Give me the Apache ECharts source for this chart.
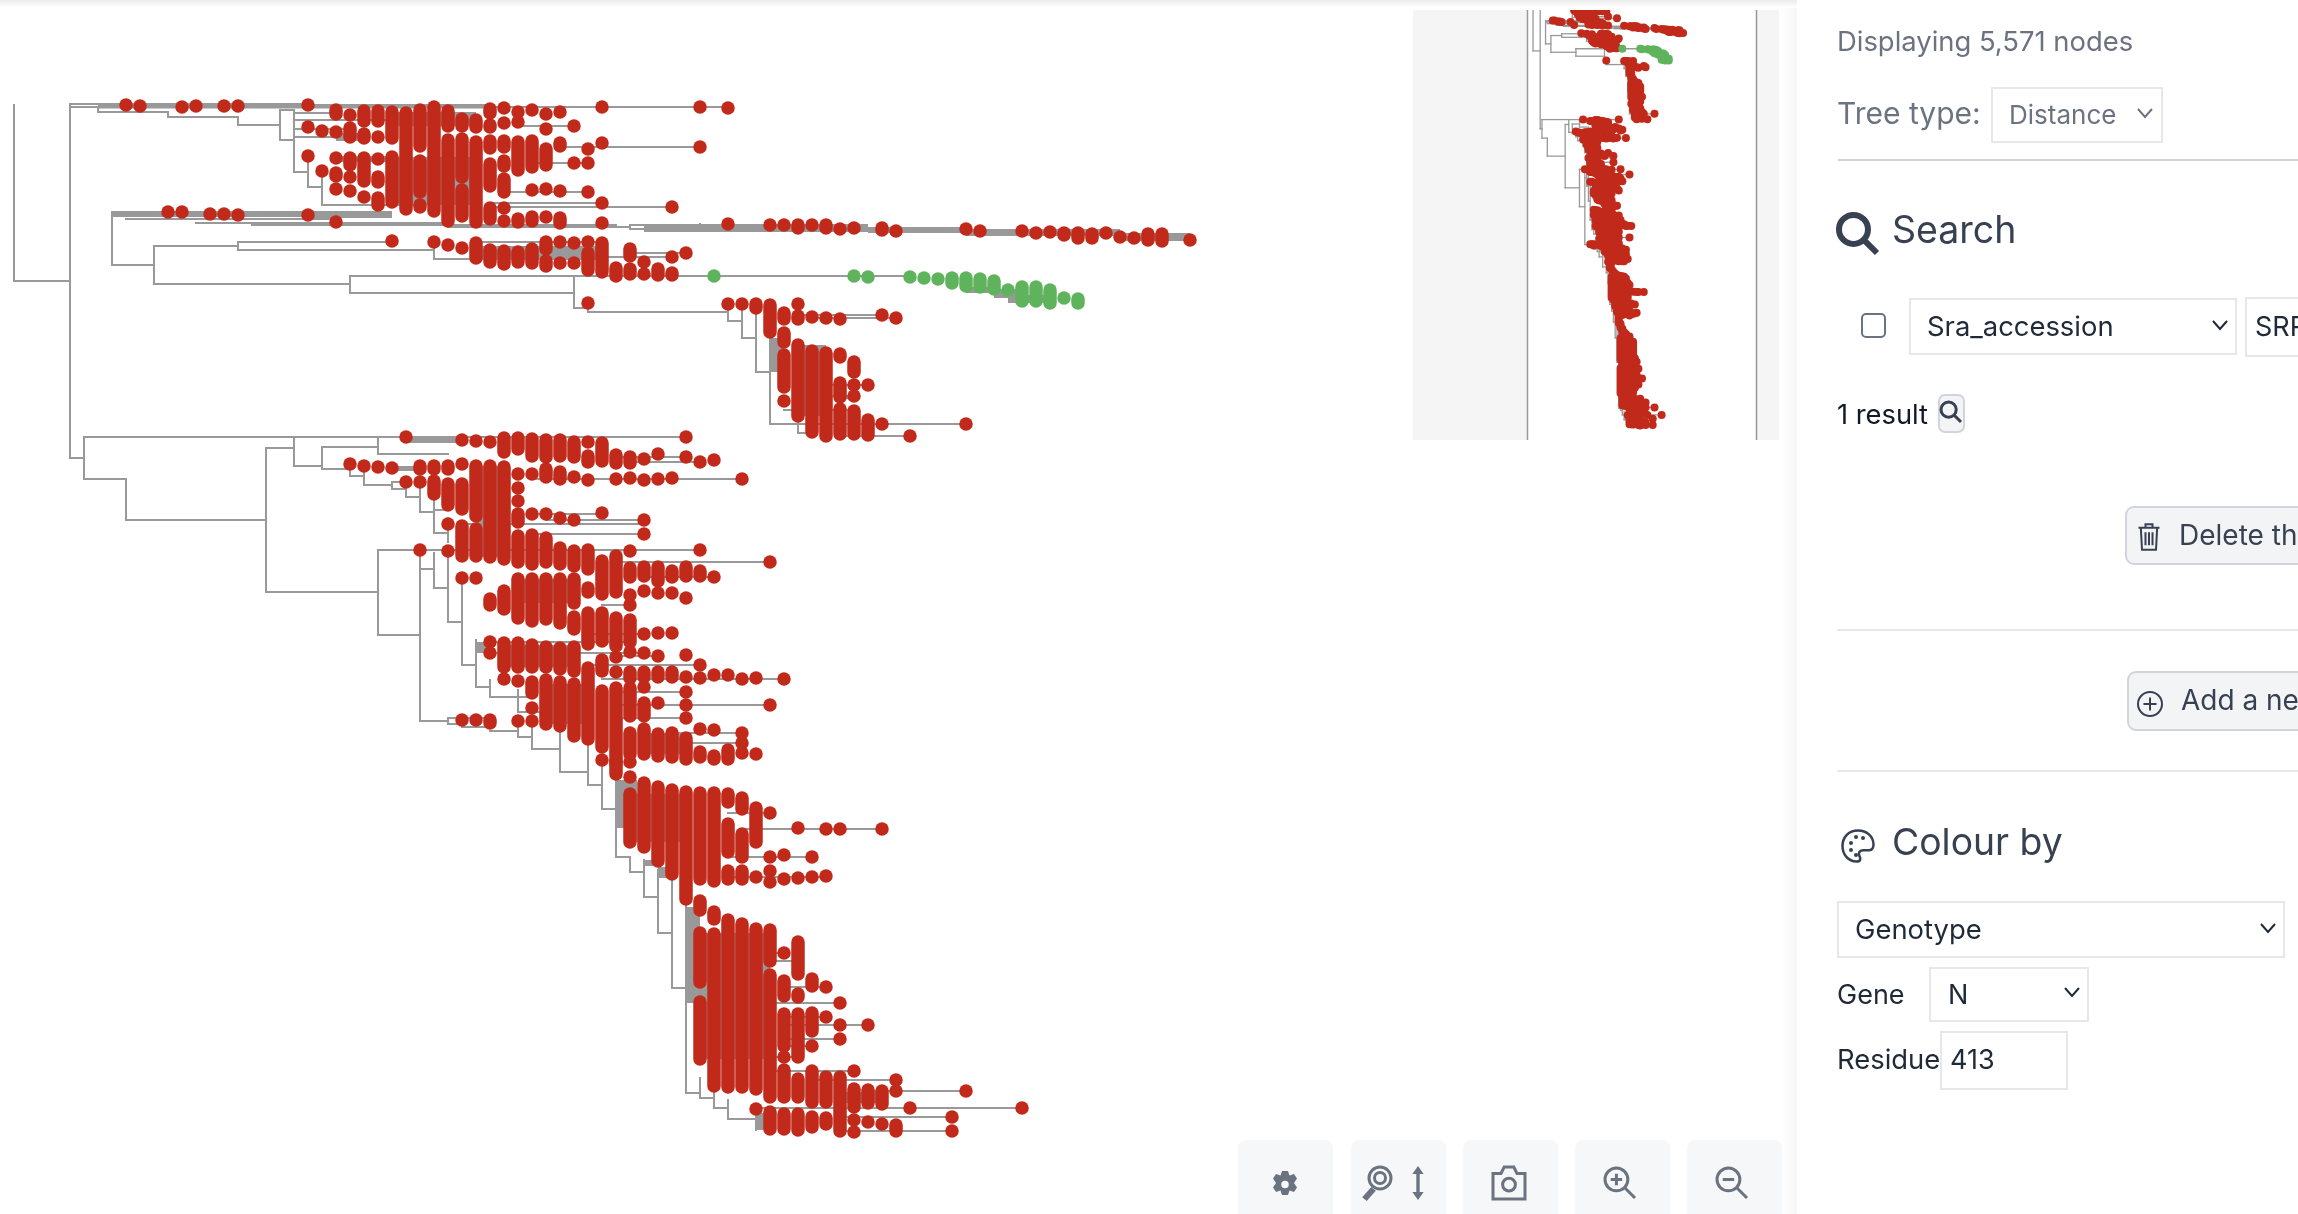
<!DOCTYPE html>
<html>
<head>
<meta charset="utf-8">
<title>Tree</title>
<script src="https://cdn.jsdelivr.net/npm/echarts@6/dist/echarts.min.js"></script>
<style>
html, body { margin: 0; padding: 0; background: #fff; overflow: hidden; }
#container { width: 2298px; height: 1214px; }
</style>
</head>
<body>
<div id="container"></div>
<script>
// x is the distance in mutations, y the row of the tree.
// one tip row is [distance, y, y, [yFrom, yTo], ...]

var redUpper = [
  [9, 105], [10, 106], [12, 212], [13, 107, 212], [14, 106], [15, 214], [16, 106, 214], [17, 106, 215],
  [22, 105, 127, 156, 215], [23, 131, 171],
  [24, [110, 114], 132, 158, [173, 176], 189, 222],
  [25, 115, [128, 137], [158, 165], 177, 191],
  [26, [111, 121], [134, 138], [158, 181], 197],
  [27, [111, 121], 137, 159, [177, 182], [198, 205]],
  [28, [112, 138], [157, 202]],
  [29, [113, 209]],
  [30, [110, 146], [161, 192], [205, 207]],
  [31, [107, 211]],
  [32, [111, 126], [140, 221]],
  [33, [119, 126], [139, 177], [190, 216]],
  [34, [120, 127], [142, 222]],
  [35, [109, 113], [125, 127], [141, 148], [164, 186], [208, 219]],
  [36, 108, 123, [141, 147], [161, 166], [179, 192], 208, 221],
  [37, 112, 122, [142, 170], [219, 222]],
  [38, 110, [141, 167], 190, [217, 221]],
  [39, 114, 129, [149, 165], 189, 217],
  [40, 112, [143, 146], 191, [218, 223]],
  [41, 126, 163], [42, 149, 163, 192], [43, 107, 143, 203, 223], [48, 207], [50, 107, 147], [52, 108, 224]
];

var redLongBranch = [
  [55, 225], [56, 225], [57, [225, 228]], [58, 225], [59, [225, 228]], [60, 229], [61, 228], [63, [228, 230]],
  [64, 231], [69, 229], [70, 231], [73, 231], [74, 233], [75, 232], [76, [233, 235]], [77, [233, 238]],
  [78, [234, 238]], [79, 233], [80, 237], [81, 238], [82, [234, 240]], [83, [234, 241]], [85, 240]
];

var redSecond = [
  [28, 241], [31, 242], [32, 245], [33, 248], [34, [243, 258]], [35, [250, 262]], [36, [251, 264]],
  [37, [252, 262]], [38, [249, 263]], [39, [242, 249], [261, 266]], [40, 242, 263], [41, 243, 263],
  [42, 242, [253, 270]], [43, [243, 272]], [44, [268, 276]], [45, [249, 256], [269, 274]], [46, 262, 274],
  [47, [269, 275]], [48, 257, [273, 275]], [49, 253]
];

var redThird = [
  [42, 303], [52, 304], [53, 304], [54, [304, 308]], [55, [305, 332]],
  [56, [313, 319], [333, 342], [355, 387], 401],
  [57, 304, [316, 319], [345, 416]], [58, 317, [351, 432]], [59, 318, [353, 436]],
  [60, 319, [354, 357], [383, 397], [409, 434]], [61, [362, 372], 385, 396, [411, 434]],
  [62, 385, [420, 435]], [63, 315, 424], [64, 318], [65, 436], [69, 424]
];

var redFourth = [
  [25, 464], [26, 466], [27, 467], [28, 468], [29, 437, 482], [30, [466, 469], 482, 550],
  [31, [466, 469], [481, 494]], [32, [466, 469], [484, 505], 524, 551],
  [33, 440, 464, [484, 509], [526, 556], 578], [34, 441, [466, 516], [529, 556], 578],
  [35, 442, [466, 557], [599, 605], 642, 653], [36, [438, 452], [467, 559], [591, 609]],
  [37, [438, 449], 474, 488, 501, [514, 522], [536, 562], [579, 618]],
  [38, [439, 456], 474, 514, [535, 564], [579, 621]], [39, [440, 457], [469, 477], 514, [538, 562], [579, 619]],
  [40, [440, 456], [472, 479], 518, [548, 564], [579, 623]], [41, [442, 457], 477, 520, [551, 566], [579, 603], [617, 629]],
  [42, 442, [456, 462], 480, [550, 569], [588, 592]], [43, [443, 461], 513, [561, 594]],
  [44, [455, 463], 479, [556, 592]], [45, [457, 463], 478, 551, [568, 577], 595, 605],
  [46, 459, 480, 520, 534, [567, 576], 591], [47, 454, 479, [567, 581], 593], [48, 478, [571, 577], 593],
  [49, 437, 457, [567, 576], 598], [50, 462, 550, [571, 576]], [51, 460, 577], [53, 479], [55, 562]
];

var redFifth = [
  [33, 720], [34, 720], [35, [720, 723]], [36, [643, 667], 679], [37, [643, 667], 681, 721],
  [38, [645, 667], [682, 693], 708, 721], [39, [647, 667], [680, 724]], [40, [648, 669], [682, 726]],
  [41, [647, 671], [684, 736]], [42, [613, 644], [668, 739]], [43, [613, 641], [660, 671], [691, 747], 760],
  [44, [618, 646], 657, 672, [688, 763]], [45, [620, 642], 652, [672, 678], [688, 716], [733, 754], 762],
  [46, 634, 653, [672, 677], 687, [703, 716], [729, 754]], [47, 633, 656, [672, 677], 703, [734, 756]],
  [48, 633, [672, 677], [733, 757]], [49, 655, 677, 692, 705, 718, [738, 759]], [50, 665, 678, [752, 757], 729],
  [51, 675, 730, [756, 759]], [52, 675, [750, 759]], [53, 679, 733, 743, 753], [54, 678, 754], [55, 705], [56, 679]
];

var redBottom = [
  [44, [761, 774]], [45, 777, [794, 842]], [46, [783, 847]], [47, [787, 861]], [48, [790, 874]],
  [49, [792, 899]], [50, [793, 879], [901, 910], [933, 982], [1002, 1059]],
  [51, [793, 881], [912, 919], [934, 1086]], [52, [794, 802], [824, 852], [871, 879], [920, 1087]],
  [53, [798, 809], [834, 857], [871, 879], [924, 1087]], [54, [808, 842], 877, [929, 1089], 1109],
  [55, 813, 857, 871, 882, [930, 961], [975, 1097], [1112, 1129]],
  [56, 855, 879, 953, [981, 996], [1014, 1046], 1057, [1070, 1097], [1114, 1129]],
  [57, 828, 878, [942, 974], [994, 997], [1014, 1057], [1079, 1097], [1114, 1130]],
  [58, 857, 877, [979, 986], [1013, 1031], 1046, [1071, 1102], [1117, 1127]],
  [59, 829, 876, 987, 1017, [1077, 1102], [1118, 1124]], [60, 829, 1003, 1025, 1039, [1077, 1131]],
  [61, 1071, [1089, 1107], 1120, 1132], [62, 1025, [1090, 1103], 1122], [63, 829, [1091, 1104], 1124],
  [64, 1080, 1091, [1125, 1131]], [65, 1108], [68, 1117, 1131], [69, 1091], [73, 1108]
];

var greenTips = [
  [51, 276], [61, 276], [62, 277], [65, 277], [66, 278], [67, 279], [68, [278, 283]], [69, [278, 286]],
  [70, [279, 287]], [71, [281, 289]], [72, 290], [73, [287, 301]], [74, [287, 301]], [75, [290, 303]],
  [76, 298], [77, [299, 303]]
];

// vertical branches: [distance, yFrom, yTo]
var stems = [
  [1, 105, 281], [5, 104, 458], [6, 437, 479], [9, 479, 520], [19, 449, 592], [21, 437, 466], [23, 447, 469],
  [27, 438, 454], [25, 468, 476], [26, 466, 485], [28, 482, 489], [29, 482, 497], [30, 482, 512], [31, 500, 533],
  [32, 518, 542], [27, 550, 635], [30, 550, 721], [31, 553, 588], [32, 551, 622], [33, 578, 665], [34, 640, 687],
  [35, 680, 697], [37, 690, 712], [7, 107, 112], [12, 112, 117], [17, 117, 125], [20, 110, 140], [21, 110, 172],
  [22, 155, 187], [23, 170, 205], [8, 212, 265], [11, 246, 284], [17, 242, 250], [31, 242, 259], [25, 276, 293],
  [41, 276, 308], [42, 303, 312], [52, 304, 321], [53, 305, 338], [54, 310, 372], [55, 330, 424], [57, 421, 433],
  [45, 225, 229], [50, 224, 231], [32, 718, 724], [33, 722, 727], [37, 722, 737], [38, 722, 749], [40, 730, 772],
  [42, 745, 785], [43, 763, 809], [44, 780, 857], [45, 857, 872], [46, 860, 897], [47, 870, 933], [48, 877, 988],
  [49, 903, 1093], [50, 1078, 1098], [51, 1090, 1108], [52, 1100, 1119], [54, 1113, 1130]
];

// horizontal branches: [y, distanceFrom, distanceTo]
var twigs = [
  [281, 1, 5], [458, 5, 6], [479, 6, 9], [520, 9, 19], [448, 19, 21], [592, 19, 27], [635, 27, 30], [466, 21, 23],
  [437, 6, 21],
  [447, 23, 27], [469, 23, 25], [454, 27, 32], [437, 21, 49], [476, 25, 26], [485, 26, 28], [482, 28, 29], [489, 28, 29],
  [497, 29, 30], [512, 30, 31], [533, 31, 32], [510, 31, 32], [550, 27, 50], [569, 30, 31], [588, 31, 32], [622, 32, 33],
  [665, 33, 34], [687, 34, 35], [697, 35, 38], [712, 37, 40], [721, 30, 32], [718, 32, 35], [724, 32, 33], [727, 33, 35],
  [731, 35, 37], [737, 37, 38], [749, 38, 40], [772, 40, 42], [785, 42, 43], [809, 43, 44], [857, 44, 45], [872, 45, 46],
  [897, 46, 47], [933, 47, 48], [988, 48, 49], [1093, 49, 50], [1098, 50, 51], [1108, 51, 52], [1119, 52, 54],
  [104, 5, 22], [107, 5, 7], [112, 7, 12], [117, 12, 17], [125, 17, 20], [140, 20, 21], [110, 20, 21], [172, 21, 22],
  [187, 22, 23], [113, 21, 24], [120, 21, 28], [129, 21, 25], [137, 21, 24], [205, 23, 30], [107, 35, 52], [126, 37, 41],
  [147, 40, 50], [163, 38, 42], [192, 36, 42], [203, 35, 43], [207, 35, 48], [219, 9, 24], [223, 14, 32], [225, 18, 44],
  [265, 8, 11], [246, 11, 17], [284, 11, 25], [242, 17, 28], [250, 17, 31], [259, 31, 34], [276, 25, 65], [293, 25, 41],
  [308, 41, 42], [312, 42, 52], [321, 52, 53], [338, 53, 54], [372, 54, 55], [424, 55, 69], [433, 57, 58], [227, 32, 45],
  [225, 45, 52], [229, 45, 50], [240, 83, 85], [242, 34, 43], [257, 39, 48], [253, 45, 49], [318, 58, 64], [315, 57, 63],
  [436, 60, 65], [396, 57, 61], [385, 59, 62], [524, 33, 46], [514, 38, 43], [520, 39, 46], [534, 38, 46], [479, 38, 53],
  [457, 44, 49], [462, 45, 50], [562, 44, 55], [577, 46, 51], [605, 43, 45], [634, 42, 46], [665, 42, 50], [679, 43, 56],
  [705, 44, 55], [692, 44, 49], [718, 44, 49], [743, 48, 53], [733, 48, 53], [829, 53, 63], [857, 52, 58], [813, 52, 55],
  [877, 52, 59], [1108, 54, 73], [1117, 60, 68], [1131, 60, 68], [1091, 62, 69], [1071, 55, 61], [1080, 58, 64],
  [987, 56, 59], [1003, 55, 60], [1017, 56, 59], [1025, 56, 62], [1039, 56, 60], [953, 54, 56], [961, 54, 57],
  [1046, 56, 58], [1057, 54, 57], [642, 35, 45], [653, 35, 46], [656, 44, 47], [398, 60, 61], [410, 56, 61]
];

// dense runs of short branches: [distanceFrom, yFrom, distanceTo, yTo]
var denseBranches = [
  [7, 104, 35, 108.5], [8, 211, 22, 217], [22, 211, 28, 218], [24, 133, 26, 141], [24, 156, 28, 162],
  [28, 112, 34, 126], [28, 157, 34, 205], [46, 224, 62, 232], [62, 227, 69, 233], [69, 229, 80, 236],
  [80, 233, 85, 241], [34, 246, 43, 260], [69, 287, 71, 293], [71, 289, 73, 298], [72, 295, 75, 303],
  [55, 338, 56, 372], [57, 345, 59, 416], [29, 437, 33, 443], [28, 466, 30, 471], [34, 466, 36, 557],
  [37, 579, 41, 603], [34, 642, 35, 653], [36, 645, 41, 667], [39, 684, 42, 724], [46, 733, 49, 754],
  [44, 780, 45.5, 828], [46, 860, 47, 866], [47, 867, 48, 878], [49, 907, 50, 1003], [50, 933, 55, 1059],
  [45, 794, 49, 842], [54, 1113, 55, 1130], [60, 1092, 63, 1103]
];

var chart = echarts.init(document.getElementById('container'));

var RED = '#c12a1b';
var GREEN = '#5fb35c';
var GRAY = '#999999';

function spans(rows) {
  var out = [];
  rows.forEach(function (row) {
    row.slice(1).forEach(function (y) {
      out.push(Array.isArray(y) ? [row[0], y[0], y[1]] : [row[0], y, y]);
    });
  });
  return out;
}

function pillRender(w) {
  return function (p, api) {
    var a = api.coord([api.value(0), api.value(1)]);
    var b = api.coord([api.value(0), api.value(2)]);
    return {
      type: 'rect',
      shape: { x: a[0] - w / 2, y: a[1] - w / 2, width: w, height: b[1] - a[1] + w, r: w / 2 },
      style: { fill: api.visual('color') }
    };
  };
}

function stemRender(w) {
  return function (p, api) {
    var a = api.coord([api.value(0), api.value(1)]);
    var b = api.coord([api.value(0), api.value(2)]);
    return { type: 'line', shape: { x1: a[0], y1: a[1], x2: b[0], y2: b[1] }, style: { stroke: GRAY, lineWidth: w, lineCap: 'square' } };
  };
}

function twigRender(w) {
  return function (p, api) {
    var a = api.coord([api.value(1), api.value(0)]);
    var b = api.coord([api.value(2), api.value(0)]);
    return { type: 'line', shape: { x1: a[0], y1: a[1], x2: b[0], y2: b[1] }, style: { stroke: GRAY, lineWidth: w, lineCap: 'square' } };
  };
}

function blockRender(p, api) {
  var a = api.coord([api.value(0), api.value(1)]);
  var b = api.coord([api.value(2), api.value(3)]);
  return { type: 'rect', shape: { x: a[0], y: a[1], width: b[0] - a[0], height: b[1] - a[1] }, style: { fill: GRAY } };
}

function treeSeries(axis, pillW, lineW) {
  var base = { type: 'custom', xAxisIndex: axis, yAxisIndex: axis, silent: true, clip: true, animation: false };
  var allRed = spans(redUpper.concat(redLongBranch, redSecond, redThird, redFourth, redFifth, redBottom));
  return [
    Object.assign({}, base, { renderItem: blockRender, data: denseBranches, z: 2 }),
    Object.assign({}, base, { renderItem: stemRender(lineW), data: stems, z: 3 }),
    Object.assign({}, base, { renderItem: twigRender(lineW), data: twigs, z: 3 }),
    Object.assign({}, base, { renderItem: pillRender(pillW), data: allRed, itemStyle: { color: RED }, z: 4 }),
    Object.assign({}, base, { renderItem: pillRender(pillW), data: spans(greenTips), itemStyle: { color: GREEN }, z: 4 })
  ];
}

// panel helpers
var FONT = 'Inter, "Noto Sans", sans-serif';
var SLATE = '#6b7280';
var INK = '#374151';
var BORDER = '#e5e7eb';

function label(text, x, y, size, fill) {
  return { type: 'text', z: 5, style: { text: text, x: x, y: y, fill: fill, font: size + 'px ' + FONT, textVerticalAlign: 'middle' } };
}
function box(x, y, w, h, fill, stroke, r) {
  return { type: 'rect', z: 1, shape: { x: x, y: y, width: w, height: h, r: r || 0 }, style: { fill: fill, stroke: stroke || null, lineWidth: 2 } };
}
function rule(x1, x2, y, color) {
  return { type: 'line', z: 1, shape: { x1: x1, y1: y, x2: x2, y2: y }, style: { stroke: color, lineWidth: 2 } };
}
function chevron(x, y, color) {
  return { type: 'polyline', z: 5, shape: { points: [[x - 7, y - 4], [x, y + 4], [x + 7, y - 4]] }, style: { stroke: color, lineWidth: 2, fill: null } };
}
function icon(d, x, y, w, h, fill, stroke, lw) {
  return { type: 'path', z2: 5, shape: { pathData: d, layout: 'center', x: x - w / 2, y: y - h / 2, width: w, height: h }, style: { fill: fill || 'none', stroke: stroke || 'none', lineWidth: lw || 0 } };
}

var LENS = 'M10 2a8 8 0 1 0 0 16a8 8 0 1 0 0-16zM16 16L23 23';
var graphics = [
  { type: 'rect', z: 0, shape: { x: 1413, y: 10, width: 114, height: 430 }, style: { fill: '#f5f5f5' } },
  { type: 'rect', z: 0, shape: { x: 1757, y: 10, width: 22, height: 430 }, style: { fill: '#f5f5f5' } },
  { type: 'line', z: 1, shape: { x1: 1527.5, y1: 10, x2: 1527.5, y2: 440 }, style: { stroke: GRAY, lineWidth: 1.5 } },
  { type: 'line', z: 1, shape: { x1: 1756.5, y1: 10, x2: 1756.5, y2: 440 }, style: { stroke: GRAY, lineWidth: 1.5 } },
  { type: 'rect', z: 0, shape: { x: 1781, y: 0, width: 16, height: 1214 }, style: { fill: new echarts.graphic.LinearGradient(0, 0, 1, 0, [{ offset: 0, color: '#ffffff' }, { offset: 1, color: '#f6f6f6' }]) } },
  { type: 'rect', z: 0, shape: { x: 0, y: 0, width: 1797, height: 8 }, style: { fill: new echarts.graphic.LinearGradient(0, 0, 0, 1, [{ offset: 0, color: '#ececec' }, { offset: 1, color: '#ffffff' }]) } },

  label('Displaying 5,571 nodes', 1837, 43, 27.4, SLATE),
  label('Tree type:', 1837, 115, 30, SLATE),
  box(1992, 88, 170, 54, '#fff', BORDER),
  label('Distance', 2009, 116, 26, SLATE),
  chevron(2145, 113, SLATE),
  rule(1838, 2298, 160, '#d1d5db'),

  label('Search', 1892, 232, 37.5, INK),
  box(1862, 314, 23, 23, '#fff', SLATE, 4),
  box(1910, 299, 326, 55, '#fff', BORDER),
  label('Sra_accession', 1927, 328, 27.4, '#1f2937'),
  chevron(2220, 325, '#1f2937'),
  box(2246, 298, 60, 58, '#fff', BORDER),
  label('SRR', 2255, 328, 27, '#1f2937'),
  label('1 result', 1837, 416, 27.3, '#111827'),
  box(1939, 395, 25, 37, '#f3f4f6', '#d1d5db', 6),

  box(2126, 507, 190, 57, '#f3f4f6', '#d1d5db', 8),
  label('Delete this search', 2179, 537, 28, INK),
  rule(1837, 2298, 630, BORDER),

  box(2128, 672, 190, 58, '#f3f4f6', '#d1d5db', 8),
  label('Add a new search', 2181, 702, 28, INK),
  rule(1837, 2298, 771, BORDER),

  label('Colour by', 1892, 844, 37.3, INK),
  box(1838, 902, 446, 55, '#fff', BORDER),
  label('Genotype', 1855, 931, 27.4, '#1f2937'),
  chevron(2268, 928, '#1f2937'),
  label('Gene', 1837, 996, 27, '#1f2937'),
  box(1930, 968, 158, 53, '#fff', BORDER),
  label('N', 1948, 996, 27, '#1f2937'),
  chevron(2072, 992, '#1f2937'),
  label('Residue', 1837, 1061, 27.4, '#1f2937'),
  box(1941, 1032, 126, 57, '#fff', BORDER),
  label('413', 1950, 1061, 27, '#1f2937')
];

// palette dots
[[1851, 843], [1856, 837], [1863, 838], [1851, 850], [1856, 855]].forEach(function (d) {
  graphics.push({ type: 'circle', z: 5, shape: { cx: d[0], cy: d[1], r: 2 }, style: { fill: INK } });
});

// toolbar
[1238, 1351, 1463, 1575, 1687].forEach(function (x) {
  graphics.push(box(x, 1140, 95, 90, '#f6f7f9', null, 8));
});

// the graphic component has no svg path element, so icons go through a custom series
var icons = [
  icon(LENS, 1858, 234, 38, 38, null, INK, 6),
  icon(LENS, 1951, 412, 20, 22, null, INK, 3),
  icon('M3 5h18M9 5V2h6v3M5 5l1 19h12l1-19M9 9v11M12 9v11M15 9v11', 2149, 537, 21, 26, null, INK, 2),
  icon('M12 1a11 11 0 1 0 0 22a11 11 0 1 0 0-22zM12 6v12M6 12h12', 2150, 704, 24, 24, null, INK, 2),
  icon('M12 1C5 1 1 6 1 12s4 11 10 11c3 0 3-2 2-4s0-4 3-4h4c2 0 3-2 3-4C23 5 18 1 12 1z', 1858, 846, 31, 31, null, INK, 2.5),
  icon('M10 1h4l1 3l3-1l2 3l-2 3l2 3l-2 3l-3-1l-1 3h-4l-1-3l-3 1l-2-3l2-3l-2-3l2-3l3 1zM12 7.5a2.5 2.5 0 1 0 0 5a2.5 2.5 0 1 0 0-5z', 1285, 1183, 24, 26, SLATE),
  icon('M14 1a8 8 0 1 0 0 16a8 8 0 1 0 0-16zM14 5a4 4 0 1 0 0 8a4 4 0 1 0 0-8z', 1380, 1178, 22, 24, null, SLATE, 3),
  icon('M8 14L1 22', 1369, 1194, 9, 11, null, SLATE, 6),
  icon('M5 0L10 7H6.5V23H10L5 30L0 23H3.5V7H0z', 1418, 1183, 16, 34, SLATE),
  icon('M2 6h5l2-4h6l2 4h5v16H2zM12 9a4 4 0 1 0 0 8a4 4 0 1 0 0-8z', 1509, 1183, 32, 32, null, SLATE, 3),
  icon('M10 2a8 8 0 1 0 0 16a8 8 0 1 0 0-16zM16 16L23 23M10 6v8M6 10h8', 1620, 1183, 30, 32, null, SLATE, 3),
  icon('M10 2a8 8 0 1 0 0 16a8 8 0 1 0 0-16zM16 16L23 23M6 10h8', 1732, 1183, 30, 32, null, SLATE, 3)
];

var iconSeries = {
  type: 'custom',
  coordinateSystem: 'none',
  silent: true,
  z: 6,
  data: icons.map(function (d, i) { return [i]; }),
  renderItem: function (p) { return icons[p.dataIndex]; }
};

var option = {
  backgroundColor: '#ffffff',
  animation: false,
  tooltip: { show: false },
  grid: [
    { left: 0, top: 0, width: 1792, height: 1214 },
    { left: 1413, top: 10, width: 366, height: 430 }
  ],
  xAxis: [
    { type: 'value', gridIndex: 0, min: 0, max: 128, show: false },
    { type: 'value', gridIndex: 1, min: -66.2, max: 138.7, show: false }
  ],
  yAxis: [
    { type: 'value', gridIndex: 0, min: 0, max: 1214, inverse: true, show: false },
    { type: 'value', gridIndex: 1, min: 188, max: 1165, inverse: true, show: false }
  ],
  graphic: { elements: graphics },
  series: treeSeries(0, 13.5, 2).concat(treeSeries(1, 8, 1.3), [iconSeries])
};

chart.setOption(option);
</script>
</body>
</html>
